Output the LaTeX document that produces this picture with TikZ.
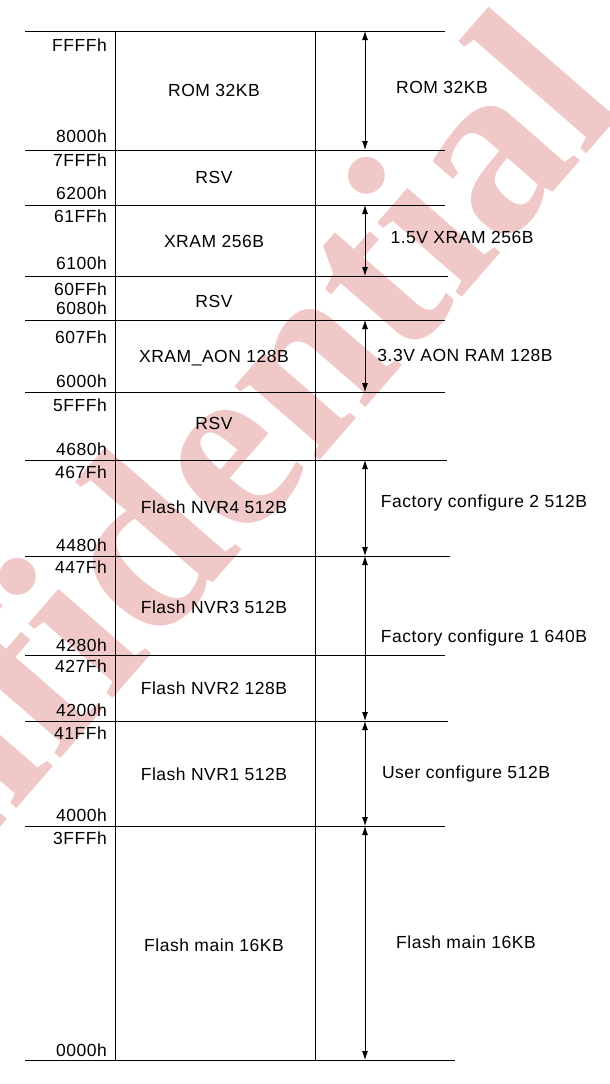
\documentclass[tikz,border=0pt]{standalone}
\usepackage{fontspec}
\usetikzlibrary{arrows.meta}
\setmainfont{Liberation Sans}[LetterSpace=3]
\newfontfamily\wmfont{Liberation Serif}
\definecolor{wmpink}{RGB}{240,200,200}
\begin{document}
\begin{tikzpicture}[x=1pt,y=-1pt,
  hl/.style={draw=black,line width=0.8pt},
  arr/.style={<->,>={Latex[length=9pt,width=6pt]},line width=0.8pt},
  lab/.style={font=\fontsize{17.5}{19}\selectfont,inner sep=0pt},
  addr/.style={lab,anchor=east}]
\useasboundingbox (0,0) rectangle (610,1084);
\node[font=\wmfont\bfseries\fontsize{245}{245}\selectfont,text=wmpink,rotate=49,anchor=base east,inner sep=0pt] (wm) at (628,106) {Confidential};
% horizontal lines
\foreach \y/\r in {31/445,150/445,205/445,276/448,320/445,392/445,460/447,556/450,655/445,721/448,826/445,1060/455}
  \draw[hl] (25,\y) -- (\r,\y);
\draw[hl] (115,31) -- (115,1060);
\draw[hl] (315,31) -- (315,1060);
% arrow end coordinates
\foreach \n/\y in {a/31,b/150,c/205,d/276,e/320,f/392,g/460,h/556,i/721,j/826,k/1060}
  \coordinate (\n) at (365,\y);
\draw[arr] (a) -- (b);
\draw[arr] (c) -- (d);
\draw[arr] (e) -- (f);
\draw[arr] (g) -- (h);
\draw[arr] (h) -- (i);
\draw[arr] (i) -- (j);
\draw[arr] (j) -- (k);
% addresses
\foreach \t/\y [count=\i] in {FFFFh/45,8000h/136,7FFFh/160,6200h/193,61FFh/216,6100h/263,60FFh/289,6080h/308,607Fh/337,6000h/381,5FFFh/405,4680h/449,467Fh/472,4480h/545,447Fh/567,4280h/645,427Fh/666,4200h/710,41FFh/733,4000h/815,3FFFh/838,0000h/1050}
  \node[addr] (ad\i) at (107,\y) {\t};
% centre labels
\foreach \t/\y [count=\i] in {ROM 32KB/90,RSV/177,XRAM 256B/241,RSV/301,XRAM\_AON 128B/358,RSV/423,Flash NVR4 512B/507,Flash NVR3 512B/607,Flash NVR2 128B/688,Flash NVR1 512B/774,Flash main 16KB/945}
  \node[lab] (c\i) at (214,\y) {\t};
% right labels
\node[lab] (r1) at (442,87) {ROM 32KB};
\node[lab] (r2) at (462,237) {1.5V XRAM 256B};
\node[lab] (r3) at (465,355) {3.3V AON RAM 128B};
\node[lab] (r4) at (484,503) {Factory configure 2 512B};
\node[lab] (r5) at (484,638) {Factory configure 1 640B};
\node[lab] (r6) at (466,774) {User configure 512B};
\node[lab] (r7) at (466,942) {Flash main 16KB};
\end{tikzpicture}
\end{document}
